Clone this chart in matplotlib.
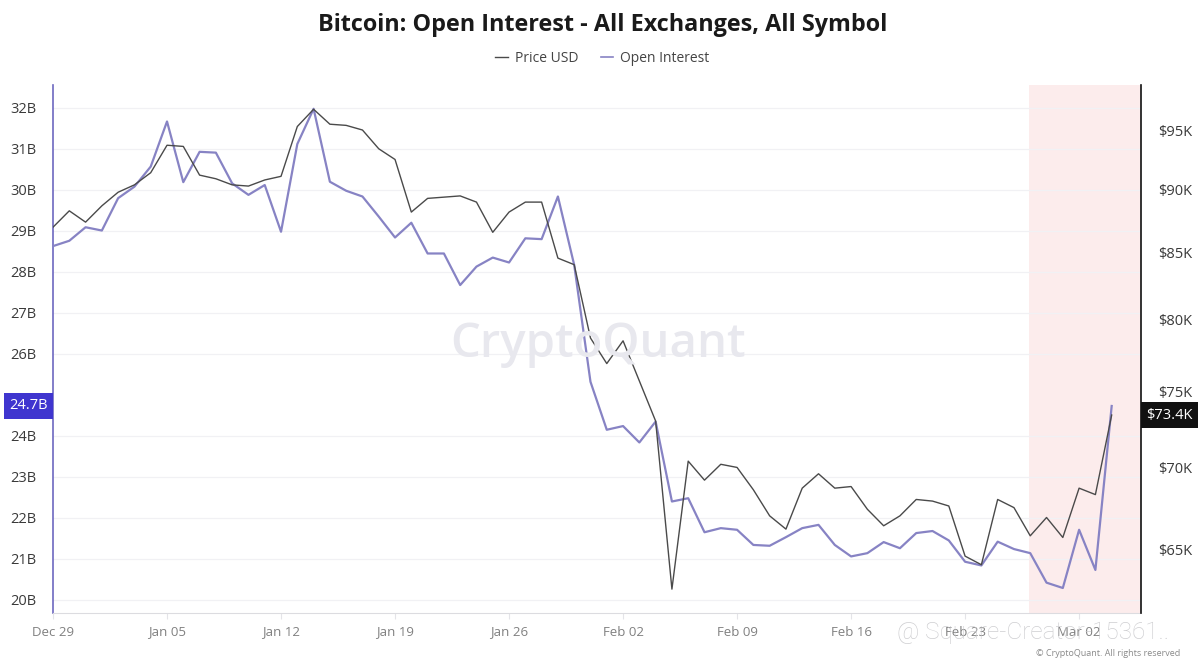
import matplotlib
matplotlib.use("Agg")
import matplotlib.pyplot as plt
import matplotlib.dates as mdates
from matplotlib.ticker import FixedLocator, FuncFormatter, NullLocator
import pandas as pd
import numpy as np

plt.rcParams['font.family'] = ['Open Sans', 'DejaVu Sans']

# ---- data (daily, Dec 29 2025 -> Mar 04 2026) ----
start_date = "2025-12-29"
open_interest_b = [
    28.63, 28.76, 29.09, 29.01, 29.80, 30.08, 30.57, 31.67, 30.19, 30.93,
    30.91, 30.16, 29.88, 30.12, 28.98, 31.12, 31.98, 30.20, 29.98, 29.84,
    29.35, 28.84, 29.20, 28.45, 28.45, 27.68, 28.13, 28.35, 28.23, 28.82,
    28.80, 29.84, 28.17, 25.32, 24.15, 24.24, 23.84, 24.35, 22.40, 22.48,
    21.65, 21.75, 21.71, 21.34, 21.32, 21.53, 21.75, 21.83, 21.34, 21.06,
    21.14, 21.41, 21.26, 21.63, 21.68, 21.45, 20.93, 20.84, 21.42, 21.24,
    21.14, 20.42, 20.29, 21.71, 20.73, 24.73,
]
price_k = [
    87.0, 88.3, 87.4, 88.7, 89.8, 90.4, 91.4, 93.7, 93.6, 91.2,
    90.9, 90.4, 90.3, 90.8, 91.1, 95.3, 96.8, 95.5, 95.4, 95.0,
    93.4, 92.5, 88.2, 89.3, 89.4, 89.5, 89.0, 86.6, 88.2, 89.0,
    89.0, 84.6, 84.1, 78.7, 76.9, 78.5, 75.7, 73.0, 62.7, 70.4,
    69.2, 70.2, 70.0, 68.6, 67.0, 66.2, 68.7, 69.6, 68.7, 68.8,
    67.4, 66.4, 67.0, 68.0, 67.9, 67.6, 64.6, 64.1, 68.0, 67.5,
    65.8, 66.9, 65.7, 68.7, 68.3, 73.4,
]
dates = pd.date_range(start_date, periods=len(price_k), freq="D")

oi_ticks = [20, 21, 22, 23, 24, 26, 27, 28, 29, 30, 31, 32]
price_ticks = [65, 70, 75, 80, 85, 90, 95]
week_ticks = pd.date_range(start_date, "2026-03-02", freq="7D")
shade_start = pd.Timestamp("2026-02-27")
last_oi_label = "24.7B"
last_price_label = "$73.4K"

title = "Bitcoin: Open Interest - All Exchanges, All Symbol"

# ---- figure ----
fig = plt.figure(figsize=(12, 6.66), dpi=100)
ax = fig.add_axes([53/1200, 1-613/666, (1141-53)/1200, (613-85)/666])
ax2 = ax.twinx()

oi_color = "#8783c4"
price_color = "#4a4a4a"

x0 = pd.Timestamp(start_date)
x1 = x0 + pd.Timedelta(days=66.8)
ax.set_xlim(x0, x1)

ax.axvspan(shade_start - pd.Timedelta(hours=2), x1, color="#fcecec", zorder=0, lw=0)

ax.plot(dates, open_interest_b, color=oi_color, lw=1.6, zorder=3)
ax2.plot(dates, price_k, color=price_color, lw=1.0, zorder=4)

ax.set_ylim(19.68, 32.56)
ax.yaxis.set_major_locator(FixedLocator(oi_ticks))
ax.yaxis.set_major_formatter(FuncFormatter(lambda v, p: f"{v:.0f}B"))
ax.grid(axis="y", color="#f1f1f4", lw=0.9, zorder=0.5)
ax.set_axisbelow(True)

ax2.set_yscale("log")
ax2.set_ylim(61.36, 98.95)
ax2.yaxis.set_major_locator(FixedLocator(price_ticks))
ax2.yaxis.set_minor_locator(NullLocator())
ax2.yaxis.set_major_formatter(FuncFormatter(lambda v, p: f"${v:.0f}K"))

ax.xaxis.set_major_locator(FixedLocator(mdates.date2num(week_ticks)))
ax.xaxis.set_major_formatter(mdates.DateFormatter("%b %d"))

for a in (ax, ax2):
    a.spines["top"].set_visible(False)
ax.spines["right"].set_visible(False)
ax2.spines["left"].set_visible(False)
ax2.spines["bottom"].set_visible(False)
ax.spines["left"].set_color("#6d68c0")
ax.spines["left"].set_linewidth(1.2)
ax.spines["bottom"].set_color("#dcdce0")
ax2.spines["right"].set_color("#111111")
ax2.spines["right"].set_linewidth(1.2)

ax.tick_params(axis="y", length=0, pad=12, labelsize=10.5, labelcolor="#3a3a3a")
ax2.tick_params(axis="y", length=0, pad=12, labelsize=10.5, labelcolor="#3a3a3a")
ax.tick_params(axis="x", length=4, color="#e4e4e8", pad=5, labelsize=9.5, labelcolor="#808080")

# highlight labels of last values
ax.annotate(last_oi_label, xy=(0, open_interest_b[-1]), xycoords=("axes fraction", "data"),
            xytext=(-4, 0), textcoords="offset points", ha="right", va="center",
            fontsize=10.5, color="white",
            bbox=dict(boxstyle="square,pad=0.35", fc="#3f35cf", ec="none"), zorder=10,
            annotation_clip=False)
ax2.annotate(last_price_label, xy=(1, price_k[-1]), xycoords=("axes fraction", "data"),
             xytext=(4, 0), textcoords="offset points", ha="left", va="center",
             fontsize=10.5, color="white",
             bbox=dict(boxstyle="square,pad=0.35", fc="#111111", ec="none"), zorder=10,
             annotation_clip=False)

# title & legend
fig.text(0.502, 1-25/666, title, ha="center", va="center", fontsize=16.8, fontweight="bold", color="#1a1a1a")
fig.legend(handles=[plt.Line2D([], [], color=price_color, lw=1.0),
                    plt.Line2D([], [], color=oi_color, lw=1.2)],
           labels=["Price USD", "Open Interest"], loc="center", bbox_to_anchor=(0.502, 1-58/666),
           ncol=2, frameon=False, fontsize=10, handlelength=0.9, handletextpad=0.5,
           columnspacing=1.6, labelcolor="#444444")

# watermarks
fig.text(0.498, 1-345/666, "CryptoQuant", ha="center", va="center", fontsize=34,
         fontweight="semibold", color="#e8e8ee", zorder=0)
fig.text(1180/1200, 1-653/666, "© CryptoQuant. All rights reserved", ha="right", va="center",
         fontsize=6.5, color="#8a8a8a")
fig.text(897/1200, 1-632/666, "@ Square-Creator-15361..", ha="left", va="center",
         fontsize=17.5, color="#c9c9cc", alpha=0.9, fontweight="light",
         family=["Roboto", "DejaVu Sans"])

fig.savefig("out.png", dpi=100)
